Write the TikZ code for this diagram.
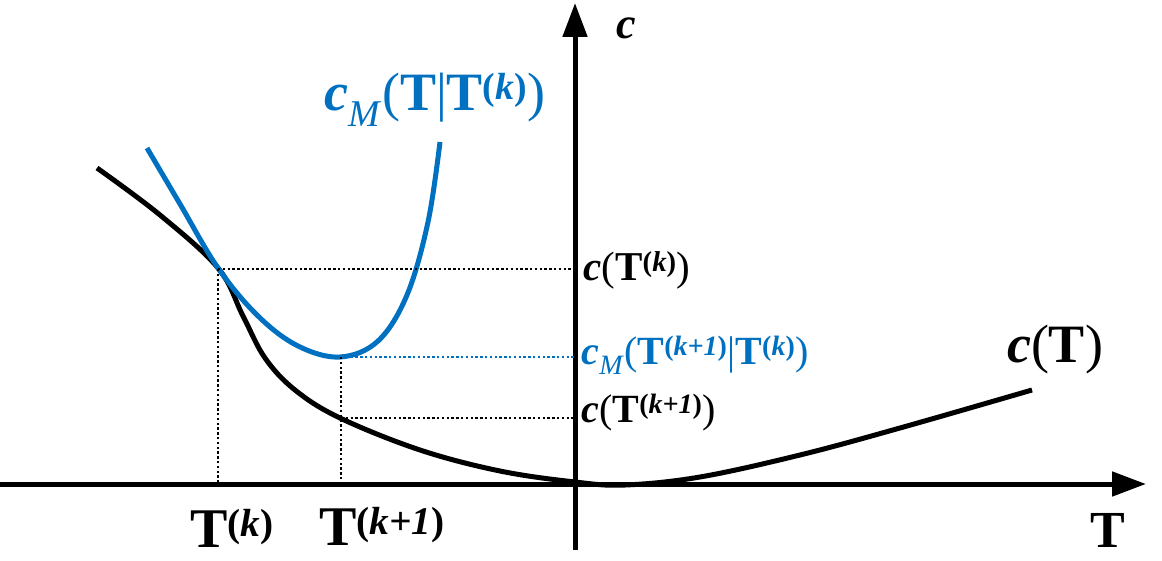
\documentclass[tikz,border=0pt]{standalone}
\usepackage{fontspec}
\setmainfont{Liberation Serif}
\usepackage{tikz}
\usetikzlibrary{arrows.meta}

\definecolor{mblue}{RGB}{0,112,192}
\newcommand{\cc}{\textbf{\textit{c}}}
\newcommand{\Tb}{\textbf{T}}
\newcommand{\supk}{\textsuperscript{\textbf{(\textit{k})}}}
\newcommand{\supkk}{\textsuperscript{\textbf{(\textit{k+1})}}}
\newcommand{\subM}{\textsubscript{\textit{M}}}
\newcommand{\fs}[1]{\fontsize{#1}{#1}\selectfont}

\begin{document}
\begin{tikzpicture}[x=1pt, y=-1pt, >={Triangle[length=34pt,width=24pt]},
	curve/.style={line width=5pt},
	guide/.style={line width=1.6pt, dash pattern=on 2.4pt off 2.4pt}]
				\useasboundingbox (0,0) rectangle (1162,561);
				
				% 坐标轴
				\draw[->, line width=5pt] (0,484) -- (1146,484);
				\draw[->, line width=5pt] (575,550) -- (575,3);
				\node[font=\fs{52}] (axT) at (1108,530) {\Tb};
				\node[font=\fs{44}] (axc) at (626,28) {\cc};
				
				% 原函数 c(T)
				\draw[curve] plot[smooth, tension=0.6] coordinates {(97,168) (160,215) (218,268) (243,316) (265,358) (295,390) (340,418) (420,450) (500,471) (575,482) (625,485) (700,477) (800,455) (900,428) (1032,390)};
				\node[font=\fs{54}] (cT) at (1055,350) {\cc(\Tb)};
				
				% 替代函数 c_M
				\draw[curve, mblue] plot[smooth, tension=0.6] coordinates {(147,148) (180,204) (218,268) (258,316) (298,346) (340,357) (378,341) (407,295) (428,222) (440,142)};
				\node[font=\fs{54}, text=mblue] (cM) at (435,100) {\cc\subM(\Tb|\Tb\supk)};
				
				% 关键点
				\coordinate (pk) at (218,269);
				\coordinate (pm) at (341,357);
				\coordinate (pc) at (341,418);
				
				% 辅助虚线
				\draw[guide] (pk) -- (pk -| 575,0) (pk) -- (pk |- 0,484);
				\draw[guide, mblue] (pm) -- (pm -| 575,0);
				\draw[guide] (pm) -- (pm |- 0,484) (pc) -- (pc -| 575,0);
				
				% 纵轴标注
				\node[font=\fs{41}, anchor=west] (lk) at (580,270) {\cc(\Tb\supk)};
				\node[font=\fs{40}, anchor=west, text=mblue] (lm) at (578,355) {\cc\subM(\Tb\supkk|\Tb\supk)};
				\node[font=\fs{40}, anchor=west] (lkk) at (578,413) {\cc(\Tb\supkk)};
				
				% 横轴标注
				\node[font=\fs{56}] (tk) at (232,528) {\Tb\supk};
				\node[font=\fs{56}] (tkk) at (382,526) {\Tb\supkk};
			\end{tikzpicture}
\end{document}
